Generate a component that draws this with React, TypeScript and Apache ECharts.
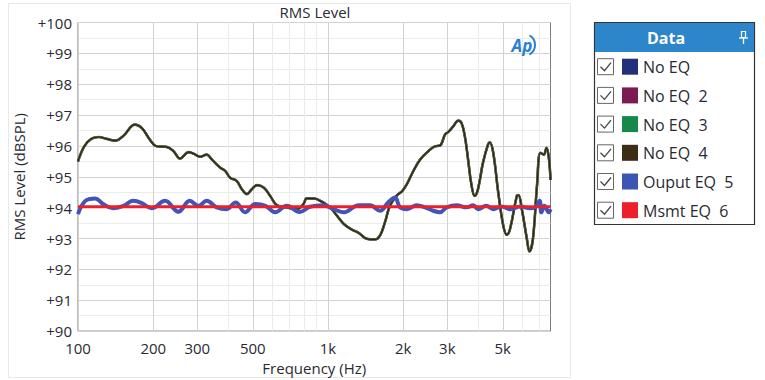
import React, { useEffect, useRef } from 'react';
import * as echarts from 'echarts';

const FREQ_MIN = 100;
const FREQ_MAX = 7760;
const LEVEL_MIN = 90;
const LEVEL_MAX = 100;
const LEVEL_STEP = 1;

// x tick labels (Hz) and grid lines
const xLabelFreqs = [100, 200, 300, 500, 1000, 2000, 3000, 5000];
const xMinorFreqs = [400, 600, 700, 800, 900, 4000, 6000, 7000];

// No EQ (1..4 overlap) measured curve
const noEqFreq = [100, 106, 113, 121, 130, 141, 152, 169, 180, 194, 206, 226, 241, 256, 277, 290, 308, 327, 343, 370, 388, 406, 431, 452, 474, 496, 520, 553, 587, 624, 683, 751, 798, 822, 887, 930, 956, 1019, 1086, 1157, 1233, 1327, 1431, 1542, 1615, 1690, 1769, 1887, 1977, 2067, 2195, 2337, 2518, 2683, 2802, 2938, 3025, 3166, 3318, 3420, 3526, 3633, 3744, 3860, 3980, 4168, 4367, 4437, 4580, 4796, 5022, 5185, 5346, 5690, 5776, 5960, 6242, 6396, 6601, 6850, 7071, 7292, 7476, 7640, 7760];
const noEqLevel = [95.5, 95.99, 96.23, 96.29, 96.23, 96.17, 96.33, 96.69, 96.58, 96.2, 95.99, 95.97, 95.83, 95.59, 95.8, 95.75, 95.65, 95.72, 95.56, 95.3, 95.19, 94.97, 94.87, 94.6, 94.44, 94.6, 94.73, 94.65, 94.38, 94.08, 94.01, 93.95, 94.12, 94.3, 94.29, 94.22, 94.17, 94.01, 93.74, 93.47, 93.31, 93.18, 92.99, 92.97, 93.1, 93.53, 94.06, 94.4, 94.53, 94.76, 95.19, 95.56, 95.83, 95.99, 96.01, 96.37, 96.45, 96.63, 96.82, 96.74, 96.31, 95.56, 94.76, 94.38, 94.6, 95.46, 96.05, 96.12, 95.78, 94.49, 93.42, 93.12, 93.31, 94.38, 94.41, 93.95, 92.99, 92.58, 92.99, 94.7, 95.78, 95.72, 95.94, 95.62, 94.9];

// Ouput EQ 5
const outEqFreq = [100, 107, 117, 126, 138, 152, 166, 180, 197, 223, 252, 280, 303, 327, 359, 393, 427, 466, 512, 562, 614, 683, 771, 847, 956, 1053, 1157, 1327, 1472, 1615, 1740, 1853, 1940, 2067, 2265, 2445, 2633, 2802, 2981, 3268, 3586, 3810, 3980, 4295, 4580, 4948, 5346, 5870, 6427, 6740, 7016, 7134, 7332, 7640, 7760];
const outEqLevel = [93.79, 94.22, 94.3, 94.12, 93.98, 94.06, 94.22, 94.15, 93.98, 94.22, 93.87, 94.22, 94.06, 94.22, 94.01, 93.95, 94.17, 93.85, 94.12, 94.06, 93.85, 94.06, 93.86, 94.03, 94.08, 93.95, 93.85, 94.08, 94.08, 93.9, 94.17, 94.33, 94.01, 93.95, 94.08, 94.01, 93.9, 93.85, 94.01, 94.08, 94.01, 94.08, 93.95, 94.06, 93.95, 94.04, 93.95, 94.04, 93.98, 94.01, 94.22, 93.85, 94.06, 93.85, 93.95];

// Msmt EQ 6
const msmtFreq = [100, 7760];
const msmtLevel = [94.03, 94.03];

const seriesNames = ['No EQ', 'No EQ  2', 'No EQ  3', 'No EQ  4', 'Ouput EQ  5', 'Msmt EQ  6'];
const seriesColors = ['#25307a', '#7b1b52', '#16894a', '#3d2c16', '#3b55b3', '#ec1f2b'];

const FONT = '"Open Sans", "Noto Sans", sans-serif';
const TXT = '#2a2a33';

const pairs = (f: number[], v: number[]) => f.map((x, i) => [x, v[i]]);
const fmtHz = (v: number) => {
  const f = Math.round(Math.pow(10, v));
  return f >= 1000 ? f / 1000 + 'k' : String(f);
};

export default function App() {
  const ref = useRef<HTMLDivElement>(null);
  useEffect(() => {
    document.body.style.margin = '0';
    const chart = echarts.init(ref.current!, undefined, { renderer: 'svg' });
    const lmin = Math.log10(FREQ_MIN);
    const lmax = Math.log10(FREQ_MAX);

    const legendEls: any[] = [
      { type: 'rect', shape: { x: 594.5, y: 22.5, width: 160, height: 202 }, style: { fill: '#fff', stroke: '#333', lineWidth: 1.2 }, z: 10 },
      { type: 'rect', shape: { x: 595, y: 23, width: 159, height: 29 }, style: { fill: '#2d86c9' }, z: 11 },
      { type: 'text', style: { text: 'Data', x: 666, y: 38, fill: '#fff', font: `bold 16px ${FONT}`, textAlign: 'center', textVerticalAlign: 'middle' }, z: 12 },
      { type: 'rect', shape: { x: 741.5, y: 31.5, width: 4, height: 6 }, style: { fill: 'none', stroke: '#fff', lineWidth: 1.2 }, z: 12 },
      { type: 'line', shape: { x1: 739, y1: 38, x2: 748, y2: 38 }, style: { stroke: '#fff', lineWidth: 1.3 }, z: 12 },
      { type: 'line', shape: { x1: 743.5, y1: 38, x2: 743.5, y2: 44 }, style: { stroke: '#fff', lineWidth: 1.3 }, z: 12 },
    ];
    seriesNames.forEach((name, i) => {
      const cy = 66.7 + i * 28.7;
      legendEls.push(
        { type: 'rect', shape: { x: 597.5, y: cy - 8, width: 16, height: 16 }, style: { fill: '#fff', stroke: '#666', lineWidth: 1 }, z: 12 },
        { type: 'polyline', shape: { points: [[600.5, cy], [604.5, cy + 4], [611, cy - 4]] }, style: { fill: 'none', stroke: '#444', lineWidth: 1.3 }, z: 12 },
        { type: 'rect', shape: { x: 622, y: cy - 8, width: 16, height: 16 }, style: { fill: seriesColors[i] }, z: 12 },
        { type: 'text', style: { text: name, x: 643, y: cy + 0.5, fill: TXT, font: `16px ${FONT}`, textVerticalAlign: 'middle' }, z: 12 }
      );
    });

    const lineSeries = (name: string, f: number[], v: number[], color: string, width: number, z: number) => ({
      name, type: 'line', xAxisIndex: 0, yAxisIndex: 0, data: pairs(f, v), smooth: 0.4,
      showSymbol: false, symbol: 'none', lineStyle: { color, width }, itemStyle: { color }, z,
    });

    chart.setOption({
      animation: false,
      grid: { left: 78, right: 214.5, top: 22.5, bottom: 47.3, show: true, borderColor: '#7a7a7a', borderWidth: 1, backgroundColor: 'transparent' },
      xAxis: [
        { type: 'log', logBase: 10, min: FREQ_MIN, max: FREQ_MAX, show: false },
        {
          type: 'value', min: lmin, max: lmax, position: 'bottom',
          axisLine: { show: false }, axisTick: { show: false, customValues: xLabelFreqs.map(Math.log10) },
          axisLabel: { customValues: xLabelFreqs.map(Math.log10), formatter: fmtHz, color: TXT, fontFamily: FONT, fontSize: 15, margin: 9 },
          splitLine: { show: true, lineStyle: { color: '#d2d2d2', width: 1 } },
          name: 'Frequency (Hz)', nameLocation: 'middle', nameGap: 24,
          nameTextStyle: { color: TXT, fontFamily: FONT, fontSize: 15 },
        },
        {
          type: 'value', min: lmin, max: lmax, position: 'bottom',
          axisLine: { show: false }, axisTick: { show: false, customValues: xMinorFreqs.map(Math.log10) },
          axisLabel: { show: false },
          splitLine: { show: true, lineStyle: { color: '#ebebeb', width: 1 } },
        },
      ],
      yAxis: [{
        type: 'value', min: LEVEL_MIN, max: LEVEL_MAX, interval: LEVEL_STEP,
        axisLine: { show: false }, axisTick: { show: false },
        axisLabel: { formatter: (v: number) => '+' + v, color: TXT, fontFamily: FONT, fontSize: 15, margin: 6 },
        splitLine: { show: true, lineStyle: { color: '#d2d2d2', width: 1 } },
        minorTick: { show: false, splitNumber: 2 },
        minorSplitLine: { show: true, lineStyle: { color: '#ebebeb', width: 1 } },
        name: 'RMS Level (dBSPL)', nameLocation: 'middle', nameGap: 50,
        nameTextStyle: { color: TXT, fontFamily: FONT, fontSize: 15 },
      }],
      series: [
        lineSeries(seriesNames[0], noEqFreq, noEqLevel, seriesColors[0], 2.2, 2),
        lineSeries(seriesNames[1], noEqFreq, noEqLevel, seriesColors[1], 2.2, 3),
        lineSeries(seriesNames[2], noEqFreq, noEqLevel, '#5c6a3c', 2.6, 4),
        lineSeries(seriesNames[3], noEqFreq, noEqLevel, '#26261a', 1.2, 5),
        lineSeries(seriesNames[4], outEqFreq, outEqLevel, '#4154b8', 4, 6),
        lineSeries(seriesNames[5], msmtFreq, msmtLevel, seriesColors[5], 3, 7),
      ],
      graphic: [
        { type: 'rect', shape: { x: 8.5, y: 3.5, width: 562, height: 374 }, style: { fill: 'none', stroke: '#e8e8e8', lineWidth: 1 }, z: -1 },
        { type: 'text', style: { text: 'RMS Level', x: 315, y: 12, fill: TXT, font: `15px ${FONT}`, textAlign: 'center', textVerticalAlign: 'middle' } },
        { type: 'text', style: { text: 'Ap', x: 522, y: 45, fill: '#2b7fcf', font: `italic bold 17px ${FONT}`, textAlign: 'center', textVerticalAlign: 'middle' }, z: 8 },
        { type: 'arc', shape: { cx: 524, cy: 45, r: 11, startAngle: -Math.PI / 3, endAngle: Math.PI / 3 }, style: { stroke: '#2b7fcf', lineWidth: 2, fill: 'none' }, z: 8 },
        ...legendEls,
      ],
    });
    return () => chart.dispose();
  }, []);
  return <div ref={ref} style={{ width: 765, height: 380 }} />;
}
